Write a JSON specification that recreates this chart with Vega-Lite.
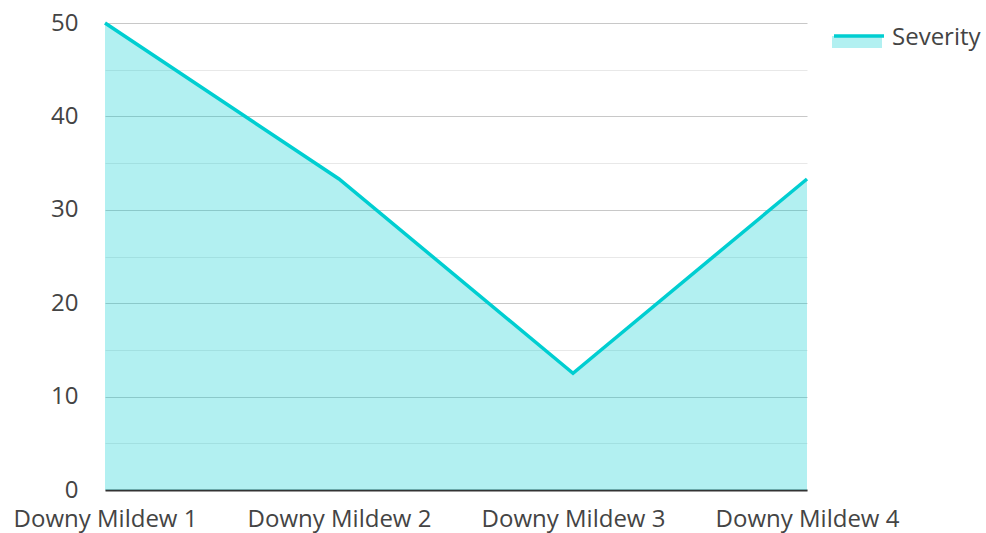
{
  "$schema": "https://vega.github.io/schema/vega-lite/v6.json",
  "width": 702,
  "height": 467,
  "autosize": {"type": "none"},
  "padding": {"left": 105, "top": 23, "right": 179, "bottom": 43},
  "background": "#ffffff",
  "config": {
    "font": "Open Sans",
    "view": {"stroke": null},
    "axis": {"labelFont": "Open Sans", "labelFontSize": 24, "labelColor": "#444444", "titleFont": "Open Sans", "labelLimit": 400},
    "legend": {"labelFont": "Open Sans", "labelFontSize": 24, "labelColor": "#444444", "padding": 0, "labelLimit": 400}
  },
  "data": {
    "values": [
      {"category": "Downy Mildew 1", "value": 50, "series": "Severity"},
      {"category": "Downy Mildew 2", "value": 33.3, "series": "Severity"},
      {"category": "Downy Mildew 3", "value": 12.5, "series": "Severity"},
      {"category": "Downy Mildew 4", "value": 33.3, "series": "Severity"}
    ]
  },
  "encoding": {
    "x": {
      "field": "category",
      "type": "ordinal",
      "scale": {"type": "point", "padding": 0},
      "sort": null,
      "axis": {"title": null, "labelAngle": 0, "ticks": false, "tickSize": 0, "labelPadding": 17, "labelLimit": 400, "domainColor": "#333333", "domainWidth": 2, "grid": false}
    },
    "y": {
      "field": "value",
      "type": "quantitative",
      "scale": {"domain": [0, 50], "nice": false},
      "axis": {
        "title": null,
        "values": [0, 5, 10, 15, 20, 25, 30, 35, 40, 45, 50],
        "labelExpr": "datum.value % 10 === 0 ? datum.label : ''",
        "ticks": false,
        "tickSize": 0,
        "labelPadding": 27,
        "domain": false,
        "grid": true,
        "gridColor": {"condition": {"test": "datum.value % 10 === 0", "value": "#c8c8c8"}, "value": "#e8e8e8"},
        "gridWidth": 1
      }
    }
  },
  "layer": [
    {
      "mark": {"type": "area", "opacity": 0.3},
      "encoding": {
        "fill": {
          "field": "series",
          "type": "nominal",
          "scale": {"domain": ["Severity"], "range": ["#00CED1"]},
          "legend": {
            "title": null,
            "orient": "none",
            "legendX": 727,
            "legendY": -12,
            "symbolType": "M-1,0H1V0.48H-1Z",
            "symbolSize": 2500,
            "symbolOpacity": 0.3,
            "symbolStrokeWidth": 0,
            "labelOffset": 6,
            "labelExpr": "''"
          }
        }
      }
    },
    {
      "mark": {"type": "line", "strokeWidth": 3.5},
      "encoding": {
        "stroke": {
          "field": "series",
          "type": "nominal",
          "scale": {"range": ["#00CED1"]},
          "legend": {
            "title": null,
            "orient": "none",
            "legendX": 727,
            "legendY": -12,
            "symbolType": "M-1,-0.08L1,-0.08",
            "symbolSize": 2500,
            "symbolStrokeWidth": 3.5,
            "labelOffset": 6
          }
        }
      }
    }
  ]
}
